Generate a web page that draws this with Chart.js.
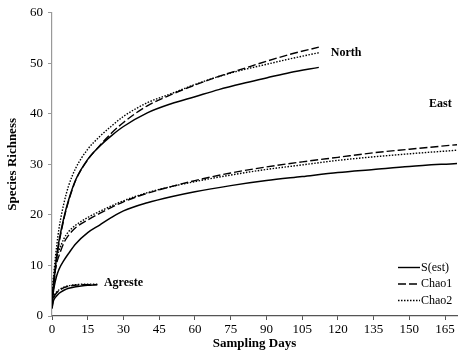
<!DOCTYPE html>
<html><head><meta charset="utf-8">
<script src="https://cdn.jsdelivr.net/npm/chart.js@4/dist/chart.umd.min.js"></script>
<style>html,body{margin:0;padding:0;background:#fff}</style>
</head><body>
<canvas id="c" width="474" height="359" style="width:474px;height:359px;display:block"></canvas>
<script>
const xTicks = [0, 15, 30, 45, 60, 75, 90, 105, 120, 135, 150, 165];
const yTicks = [0, 10, 20, 30, 40, 50, 60];
const estimators = ['S(est)', 'Chao1', 'Chao2'];
const sites = ['North', 'East', 'Agreste'];

const northDays = [0, 0.5, 1, 2, 3, 5, 7, 10, 15, 20, 25, 30, 40, 50, 60, 70, 80, 90, 100, 112];
const northSest = [2, 5, 7.5, 12, 15, 19.5, 23, 27, 31, 33.6, 35.7, 37.5, 40.2, 42, 43.4, 44.8, 46, 47.1, 48.2, 49.2];
const northChao1 = [2, 5, 7.3, 11.5, 14.5, 19.2, 22.8, 26.9, 30.9, 33.7, 36.2, 38.3, 41.6, 43.8, 45.7, 47.4, 48.9, 50.4, 51.8, 53.2];
const northChao2 = [2.5, 6.5, 9.5, 14, 17.5, 22.3, 25.8, 29.3, 33, 35.5, 37.6, 39.5, 42.2, 44.0, 45.8, 47.4, 48.7, 49.8, 50.9, 52.1];

const eastDays = [0, 0.5, 1, 2, 3, 5, 7, 10, 15, 20, 25, 30, 40, 50, 60, 75, 90, 105, 120, 135, 150, 170];
const eastSest = [2, 4.5, 6, 8, 9.3, 11, 12.4, 14.3, 16.5, 18, 19.5, 20.8, 22.4, 23.6, 24.6, 25.8, 26.8, 27.6, 28.4, 29, 29.6, 30.2];
const eastChao1 = [2, 6, 8, 10.5, 12, 14.5, 16, 17.5, 19, 20.3, 21.5, 22.6, 24.3, 25.6, 26.8, 28.3, 29.5, 30.5, 31.4, 32.3, 33, 33.9];
const eastChao2 = [2.5, 7, 9, 11.5, 13, 15.3, 16.7, 18, 19.5, 20.7, 21.8, 22.8, 24.4, 25.6, 26.6, 27.9, 29, 29.9, 30.8, 31.5, 32.1, 32.8];

const agresteDays = [0, 0.5, 1, 2, 3, 5, 7, 10, 13, 16, 19];
const agresteSest = [1.5, 2.8, 3.4, 4, 4.5, 5.1, 5.5, 5.8, 6, 6.1, 6.2];
const agresteChao1 = [1.5, 3.2, 3.9, 4.6, 5, 5.6, 5.9, 6.1, 6.2, 6.2, 6.2];
const agresteChao2 = [1.8, 3.5, 4.1, 4.8, 5.2, 5.7, 6, 6.2, 6.3, 6.3, 6.3];

// annotation anchors (data coordinates)
const siteLabelX = [117, 163, 21.8];
const siteLabelY = [52.1, 42, 6.5];
const siteLabelAlign = ['left', 'center', 'left'];

const dashes = [[], [8, 3], [1.5, 1.5]];
const siteDays = [northDays, eastDays, agresteDays];
const siteVals = [[northSest, northChao1, northChao2], [eastSest, eastChao1, eastChao2], [agresteSest, agresteChao1, agresteChao2]];

const datasets = [];
sites.forEach((s, si) => {
  estimators.forEach((e, ei) => {
    datasets.push({
      label: s + ' ' + e,
      data: siteDays[si].map((d, i) => ({x: d, y: siteVals[si][ei][i]})),
      borderColor: '#000',
      borderWidth: ei === 0 ? 1.5 : 1.4,
      borderDash: dashes[ei],
      pointRadius: 0,
      fill: false,
      cubicInterpolationMode: 'monotone'
    });
  });
});

const serif = "'Liberation Serif', 'Times New Roman', serif";

const annot = {
  id: 'annot',
  afterDatasetsDraw(chart) {
    const ctx = chart.ctx;
    const xs = chart.scales.x, ys = chart.scales.y;
    ctx.save();
    ctx.fillStyle = '#000';
    ctx.textBaseline = 'middle';
    ctx.font = 'bold 12px ' + serif;
    sites.forEach((s, i) => {
      ctx.textAlign = siteLabelAlign[i];
      ctx.fillText(s, xs.getPixelForValue(siteLabelX[i]), ys.getPixelForValue(siteLabelY[i]));
    });
    // legend
    const lx0 = 398, lx1 = 420, rowY = [267.5, 284, 300.5];
    ctx.font = '12px ' + serif;
    ctx.textAlign = 'left';
    estimators.forEach((e, i) => {
      ctx.beginPath();
      ctx.setLineDash(dashes[i]);
      ctx.lineWidth = 1.4;
      ctx.strokeStyle = '#000';
      ctx.moveTo(lx0, rowY[i]);
      ctx.lineTo(lx1, rowY[i]);
      ctx.stroke();
      ctx.setLineDash([]);
      ctx.fillText(e, lx1 + 1, rowY[i]);
    });
    ctx.restore();
  }
};

new Chart(document.getElementById('c'), {
  type: 'line',
  data: {datasets},
  options: {
    responsive: false,
    animation: false,
    devicePixelRatio: 1,
    layout: {padding: {left: 0, right: 17, top: 12, bottom: 0}},
    plugins: {legend: {display: false}, tooltip: {enabled: false}},
    scales: {
      x: {
        type: 'linear', min: 0, max: 170,
        afterFit(s) { s.height = 43; },
        afterBuildTicks(s) { s.ticks = xTicks.map(v => ({value: v})); },
        grid: {display: true, drawOnChartArea: false, drawTicks: true, tickLength: 4, color: '#555'},
        border: {display: true, color: '#555', width: 1.2},
        ticks: {font: {family: serif, size: 13}, color: '#000', padding: 2, maxRotation: 0, autoSkip: false},
        title: {display: true, text: 'Sampling Days', font: {family: serif, size: 13, weight: 'bold'}, color: '#000', padding: {top: 0, bottom: 8}}
      },
      y: {
        type: 'linear', min: 0, max: 60,
        afterFit(s) { s.width = 52; },
        afterBuildTicks(s) { s.ticks = yTicks.map(v => ({value: v})); },
        grid: {display: true, drawOnChartArea: false, drawTicks: true, tickLength: 4, color: '#999'},
        border: {display: true, color: '#999', width: 1.2},
        ticks: {font: {family: serif, size: 13}, color: '#000', padding: 5},
        title: {display: true, text: 'Species Richness', font: {family: serif, size: 13, weight: 'bold'}, color: '#000', padding: {top: 5, bottom: 0}}
      }
    }
  },
  plugins: [annot]
});
</script>
</body></html>
